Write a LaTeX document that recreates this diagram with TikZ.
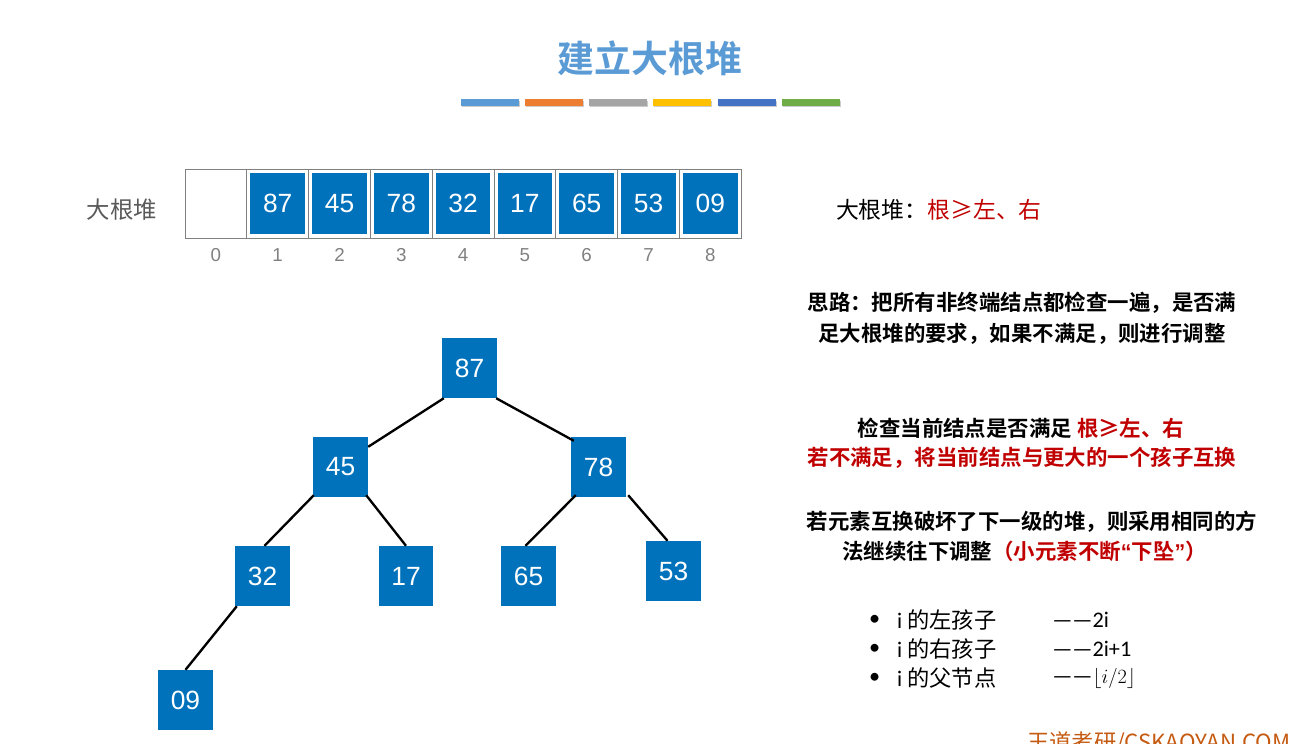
\documentclass[tikz,border=0pt]{standalone}
\usepackage{fontspec}
\setmainfont{Liberation Sans}
\newfontfamily\cjk{Noto Sans CJK SC}
\newfontfamily\cjkb{Noto Sans CJK SC Bold}
\newfontfamily\calfont{Carlito}
\usetikzlibrary{calc,positioning}
\definecolor{TitleBlue}{RGB}{91,155,213}
\definecolor{BarOrange}{RGB}{237,125,49}
\definecolor{BarGray}{RGB}{165,165,165}
\definecolor{BarGold}{RGB}{255,192,0}
\definecolor{BarBlue}{RGB}{68,114,196}
\definecolor{BarGreen}{RGB}{112,173,71}
\definecolor{HeapBlue}{RGB}{0,114,187}
\definecolor{HintRed}{RGB}{192,0,0}
\definecolor{LabelGray}{RGB}{89,89,89}
\definecolor{IdxGray}{RGB}{128,128,128}
\definecolor{WdOrange}{RGB}{197,90,17}
\tikzset{
  heapnode/.style={fill=HeapBlue,text=white,minimum width=46.9pt,minimum height=51.2pt,inner sep=0pt,font=\fontsize{22.5}{24}\selectfont},
  arrcell/.style={draw=IdxGray,line width=.6pt,minimum width=52.75pt,minimum height=58.9pt,inner sep=0pt},
  arrkey/.style={heapnode,minimum width=46.6pt,minimum height=52pt},
  idxnum/.style={text=IdxGray,font=\fontsize{16}{18}\selectfont},
  hint/.style={font=\cjkb\fontsize{18.3}{20}\selectfont,inner sep=0pt},
  listtxt/.style={anchor=west,inner sep=0pt,font=\fontsize{19}{21}\selectfont},
  treeedge/.style={line width=2pt}
}
\begin{document}
\begin{tikzpicture}[x=0.03cm,y=-0.03cm]
\useasboundingbox (0,0) rectangle (1297,743);
% title and colour bars
\node[font=\cjkb\fontsize{31.5}{34}\selectfont,text=TitleBlue] (title) at (650,58) {建立大根堆};
\foreach \c [count=\k from 0] in {TitleBlue,BarOrange,BarGray,BarGold,BarBlue,BarGreen}{
  \fill[black!20] (461.7+64.2*\k,100.5) rectangle ++(58,6.5);
  \fill[\c] (460.7+64.2*\k,99) rectangle ++(58,6.5);}
% array
\node[font=\cjk\fontsize{20}{22}\selectfont,text=LabelGray] (arrlabel) at (122,210) {大根堆};
\foreach \i in {0,...,8}{
  \node[arrcell] (c\i) at (215.9+61.8*\i,203.5) {};
  \node[idxnum] (i\i) at (215.9+61.8*\i,255) {\i};}
\foreach \v [count=\i] in {87,45,78,32,17,65,53,09}{\node[arrkey] (a\i) at (c\i) {\v};}
% tree
\node[heapnode] (n87) at (469.5,368) {87};
\node[heapnode] (n45) at (340.5,467) {45};\node[heapnode] (n78) at (598.5,467) {78};
\node[heapnode] (n32) at (262.5,576) {32};\node[heapnode] (n17) at (406,576) {17};
\node[heapnode] (n65) at (528.5,576) {65};\node[heapnode] (n53) at (673.5,571) {53};
\node[heapnode] (n09) at (185.5,700) {09};
\draw[treeedge] ($(n87.south west)+(2,0)$) -- ($(n45.north east)+(0,10)$);
\draw[treeedge] ($(n87.south east)+(-1,0)$) -- ($(n78.north west)+(3,4)$);
\draw[treeedge] ($(n45.south west)+(1,-2)$) -- ($(n32.north)+(2,0)$);
\draw[treeedge] ($(n45.south east)+(-2,-2)$) -- (n17.north);
\draw[treeedge] ($(n78.south west)+(5,-2)$) -- ($(n65.north)+(-3,0)$);
\draw[treeedge] ($(n78.south east)+(2,-2)$) -- ($(n53.north)+(-6,0)$);
\draw[treeedge] ($(n32.south west)+(2,0)$) -- (n09.north);
% hints on the right
\node[anchor=west,font=\cjk\fontsize{19.5}{21}\selectfont] (rule) at (832,210) {大根堆：\textcolor{HintRed}{根≥左、右}};
\node[hint] (idea1) at (1022,303) {思路：把所有非终端结点都检查一遍，是否满};
\node[hint] (idea2) at (1022,334) {足大根堆的要求，如果不满足，则进行调整};
\node[hint] (check1) at (1021,428) {检查当前结点是否满足 \textcolor{HintRed}{根≥左、右}};
\node[hint,text=HintRed] (check2) at (1022,458) {若不满足，将当前结点与更大的一个孩子互换};
\node[hint] (sink1) at (1032,522) {若元素互换破坏了下一级的堆，则采用相同的方};
\node[hint] (sink2) at (1024.5,551) {法继续往下调整\textcolor{HintRed}{（小元素不断{\rmfamily\bfseries “}下坠{\rmfamily\bfseries ”}）}};
% index formulas
\foreach \t/\f [count=\r] in {左孩子/{——2i},右孩子/{——2i+1},父节点/{——$\lfloor i/2\rfloor$}}{
  \node[listtxt,font=\calfont\fontsize{19}{21}\selectfont] (dot\r) at (869,591+29*\r) {•};
  \node[listtxt] (item\r) at (897,591+29*\r) {\calfont i \cjk 的\t};
  \node[listtxt] (form\r) at (1052,591+29*\r) {\calfont \f};}
\node[anchor=base west,inner sep=0pt,text=WdOrange,font=\cjk\fontsize{19}{21}\selectfont] (brand) at (1027,750) {王道考研/CSKAOYAN.COM};
\end{tikzpicture}
\end{document}
